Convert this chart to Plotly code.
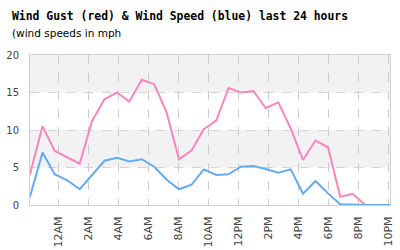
import plotly.graph_objects as go

times = [
    "2024-01-01 22:08", "2024-01-01 22:58", "2024-01-01 23:47", "2024-01-02 00:37",
    "2024-01-02 01:27", "2024-01-02 02:16", "2024-01-02 03:06", "2024-01-02 03:56",
    "2024-01-02 04:45", "2024-01-02 05:35", "2024-01-02 06:25", "2024-01-02 07:14",
    "2024-01-02 08:04", "2024-01-02 08:54", "2024-01-02 09:43", "2024-01-02 10:33",
    "2024-01-02 11:22", "2024-01-02 12:12", "2024-01-02 13:02", "2024-01-02 13:51",
    "2024-01-02 14:41", "2024-01-02 15:31", "2024-01-02 16:20", "2024-01-02 17:10",
    "2024-01-02 18:00", "2024-01-02 18:49", "2024-01-02 19:39", "2024-01-02 20:29",
    "2024-01-02 21:18", "2024-01-02 22:08",
]
gust = [4.1, 10.5, 7.2, 6.35, 5.5, 11.2, 14.1, 15.0, 13.8, 16.7, 16.1, 12.4, 6.1, 7.25,
        10.1, 11.25, 15.6, 15.0, 15.2, 12.9, 13.7, 10.2, 6.0, 8.6, 7.7, 1.1, 1.5, 0, 0, 0]
speed = [1.1, 7.0, 4.1, 3.3, 2.1, 4.0, 5.9, 6.3, 5.8, 6.1, 5.1, 3.4, 2.1, 2.7,
         4.75, 4.0, 4.1, 5.1, 5.2, 4.8, 4.3, 4.75, 1.5, 3.2, 1.55, 0.1, 0, 0, 0, 0]

x_tickvals = ["2024-01-02 00:00", "2024-01-02 02:00", "2024-01-02 04:00", "2024-01-02 06:00",
              "2024-01-02 08:00", "2024-01-02 10:00", "2024-01-02 12:00", "2024-01-02 14:00",
              "2024-01-02 16:00", "2024-01-02 18:00", "2024-01-02 20:00", "2024-01-02 22:00"]
x_ticktext = ["12AM", "2AM", "4AM", "6AM", "8AM", "10AM", "12PM", "2PM", "4PM", "6PM", "8PM", "10PM"]
y_ticks = [0, 5, 10, 15, 20]

title = "Wind Gust (red) &amp; Wind Speed (blue) last 24 hours"
subtitle = "(wind speeds in mph"

fig = go.Figure()
fig.add_trace(go.Scatter(x=times, y=gust, mode="lines",
                         line=dict(color="#f587be", width=2), hoverinfo="skip"))
fig.add_trace(go.Scatter(x=times, y=speed, mode="lines",
                         line=dict(color="#66aaee", width=2), hoverinfo="skip"))

# alternating bands (gray on 5-10 and 15-20)
for i in range(1, len(y_ticks) - 1, 2):
    fig.add_shape(type="rect", xref="paper", yref="y", x0=0, x1=1,
                  y0=y_ticks[i], y1=y_ticks[i + 1], fillcolor="#f2f2f2",
                  line=dict(width=0), layer="below")

fig.add_annotation(text="<b>" + title + "</b>", xref="paper", yref="paper",
                   x=-0.056, y=1.0, yshift=39, xanchor="left", yanchor="middle", showarrow=False,
                   font=dict(family="DejaVu Sans Mono", size=11.4, color="#000000"))
fig.add_annotation(text=subtitle, xref="paper", yref="paper",
                   x=-0.056, y=1.0, yshift=22, xanchor="left", yanchor="middle", showarrow=False,
                   font=dict(family="DejaVu Sans", size=10.5, color="#000000"))

fig.update_layout(
    width=400, height=250,
    margin=dict(l=30, r=10, t=55, b=45),
    paper_bgcolor="white", plot_bgcolor="white",
    showlegend=False,
    xaxis=dict(range=[times[0], times[-1]], tickvals=x_tickvals, ticktext=x_ticktext,
               tickangle=-90, showgrid=True, gridcolor="#cccccc", griddash="dash", gridwidth=1,
               showline=True, linecolor="#d0d0d0", linewidth=1, mirror=True,
               ticks="", ticklabelstandoff=6, automargin=False,
               tickfont=dict(family="DejaVu Sans", size=11, color="#444444")),
    yaxis=dict(range=[0, 20], tickvals=y_ticks, showgrid=True, gridcolor="#d4d4d4",
               griddash="dash", gridwidth=1, zeroline=False,
               showline=True, linecolor="#d0d0d0", linewidth=1, mirror=True,
               ticks="", ticklabelstandoff=8, automargin=False,
               tickfont=dict(family="DejaVu Sans", size=10, color="#444444")),
)

fig.write_html("out.html")
